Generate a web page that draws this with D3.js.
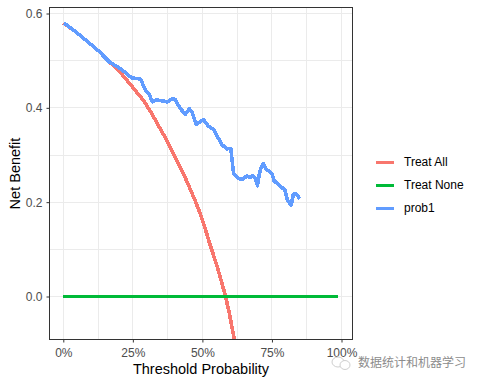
<!DOCTYPE html>
<html>
<head>
<meta charset="utf-8">
<script src="https://cdn.jsdelivr.net/npm/d3@7"></script>
<style>
html, body { margin: 0; padding: 0; background: #fff; }
svg { display: block; }
text { font-family: "Liberation Sans", Arial, sans-serif; }
</style>
</head>
<body>
<svg id="chart" width="480" height="384"></svg>
<script>
// threshold / net benefit
var treatAllX = [0, 0.042, 0.078, 0.126, 0.168, 0.204, 0.246, 0.288, 0.318, 0.348, 0.372, 0.39, 0.408, 0.43, 0.45, 0.472, 0.492, 0.51, 0.528, 0.552, 0.582, 0.597, 0.614, 0.63];
var treatAllY = [0.58, 0.5625, 0.545, 0.521, 0.496, 0.476, 0.446, 0.416, 0.388, 0.356, 0.331, 0.31, 0.289, 0.263, 0.236, 0.206, 0.176, 0.144, 0.109, 0.066, 0.003, -0.036, -0.089, -0.13];

var treatNoneX = [0, 0.988];
var treatNoneY = [0, 0];

var prob1X = [0.0025, 0.042, 0.078, 0.126, 0.168, 0.206, 0.246, 0.278, 0.296, 0.309, 0.32, 0.336, 0.375, 0.392, 0.402, 0.42, 0.439, 0.453, 0.463, 0.477, 0.504, 0.522, 0.54, 0.57, 0.588, 0.602, 0.612, 0.63, 0.645, 0.66, 0.671, 0.681, 0.691, 0.698, 0.705, 0.711, 0.719, 0.729, 0.75, 0.758, 0.777, 0.797, 0.806, 0.819, 0.827, 0.837, 0.851];
var prob1Y = [0.58, 0.5625, 0.545, 0.521, 0.496, 0.483, 0.4635, 0.461, 0.436, 0.428, 0.413, 0.417, 0.4125, 0.42, 0.418, 0.3985, 0.3865, 0.398, 0.391, 0.365, 0.375, 0.361, 0.354, 0.322, 0.313, 0.314, 0.261, 0.25, 0.248, 0.256, 0.252, 0.2565, 0.25, 0.2345, 0.261, 0.2735, 0.282, 0.27, 0.261, 0.245, 0.236, 0.225, 0.204, 0.1935, 0.217, 0.217, 0.207];

var xMajor = [0, 0.25, 0.5, 0.75, 1];
var xMinor = [0.125, 0.375, 0.625, 0.875];
var yMajor = [0, 0.2, 0.4, 0.6];
var yMinor = [0.1, 0.3, 0.5];

var legendLabels = ["Treat All", "Treat None", "prob1"];
var legendColors = ["#F8766D", "#00BA38", "#619CFF"];

var panel = { left: 49.5, right: 352.5, top: 7.5, bottom: 339.5 };

var svg = d3.select("#chart");

var x = d3.scaleLinear().domain([0, 1]).range([63.3, 341.5]);
var y = d3.scaleLinear().domain([0, 0.6]).range([296.5, 13.5]);

// grid
var grid = svg.append("g");
function vGrid(values, w) {
    grid.selectAll(null).data(values).enter().append("line")
        .attr("x1", function(d){ return x(d); })
        .attr("x2", function(d){ return x(d); })
        .attr("y1", panel.top).attr("y2", panel.bottom)
        .attr("stroke", "#ebebeb").attr("stroke-width", w)
        .attr("shape-rendering", "crispEdges");
}
function hGrid(values, w) {
    grid.selectAll(null).data(values).enter().append("line")
        .attr("y1", function(d){ return y(d); })
        .attr("y2", function(d){ return y(d); })
        .attr("x1", panel.left).attr("x2", panel.right)
        .attr("stroke", "#ebebeb").attr("stroke-width", w)
        .attr("shape-rendering", "crispEdges");
}
vGrid(xMinor, 1);
hGrid(yMinor, 1);
vGrid(xMajor, 1);
hGrid(yMajor, 1);

// lines, clipped to the panel
svg.append("clipPath").attr("id", "panelClip").append("rect")
    .attr("x", panel.left).attr("y", panel.top)
    .attr("width", panel.right - panel.left)
    .attr("height", panel.bottom - panel.top);

var line = d3.line()
    .x(function(d){ return x(d[0]); })
    .y(function(d){ return y(d[1]); });

var series = [d3.zip(treatAllX, treatAllY), d3.zip(treatNoneX, treatNoneY), d3.zip(prob1X, prob1Y)];

svg.append("g").attr("clip-path", "url(#panelClip)")
    .selectAll("path").data(series).enter().append("path")
    .attr("d", line)
    .attr("fill", "none")
    .attr("stroke", function(d, i){ return legendColors[i]; })
    .attr("stroke-width", 3.6)
    .attr("stroke-linejoin", "round")
    .attr("shape-rendering", "crispEdges");

// panel border
svg.append("rect")
    .attr("x", panel.left).attr("y", panel.top)
    .attr("width", panel.right - panel.left)
    .attr("height", panel.bottom - panel.top)
    .attr("fill", "none")
    .attr("stroke", "#333333")
    .attr("stroke-width", 1);

// axes
var xAxis = d3.axisBottom(x).tickValues(xMajor).tickSize(3).tickPadding(6).tickFormat(d3.format(".0%"));
var yAxis = d3.axisLeft(y).tickValues(yMajor).tickSize(3).tickPadding(4).tickFormat(d3.format(".1f"));

var gx = svg.append("g").attr("transform", "translate(0," + panel.bottom + ")").call(xAxis);
var gy = svg.append("g").attr("transform", "translate(" + panel.left + ",0)").call(yAxis);

[gx, gy].forEach(function(g){
    g.select(".domain").remove();
    g.selectAll(".tick line").attr("stroke", "#333333");
    g.selectAll(".tick text").attr("fill", "#4d4d4d").style("font-size", "12px");
});

svg.append("text")
    .attr("x", 201).attr("y", 374)
    .attr("text-anchor", "middle")
    .style("font-size", "14.5px")
    .text("Threshold Probability");

svg.append("text")
    .attr("transform", "translate(20,173.5) rotate(-90)")
    .attr("text-anchor", "middle")
    .style("font-size", "14.5px")
    .text("Net Benefit");

// legend
var legendY = d3.scalePoint().domain(legendLabels).range([162, 208]);
var legend = svg.append("g").selectAll("g").data(legendLabels).enter().append("g")
    .attr("transform", function(d){ return "translate(0," + legendY(d) + ")"; });

legend.append("line")
    .attr("x1", 376).attr("x2", 394)
    .attr("stroke", function(d, i){ return legendColors[i]; })
    .attr("stroke-width", 3)
    .attr("shape-rendering", "crispEdges");

legend.append("text")
    .attr("x", 404).attr("y", 4)
    .style("font-size", "12px")
    .text(function(d){ return d; });

// watermark
var mark = svg.append("g").attr("fill", "#fff").attr("stroke", "#cfcfcf").attr("stroke-width", 1);
mark.append("ellipse").attr("cx", 338).attr("cy", 362).attr("rx", 6).attr("ry", 5);
mark.append("ellipse").attr("cx", 345).attr("cy", 365).attr("rx", 5).attr("ry", 4.5);

svg.append("text")
    .attr("x", 358).attr("y", 367)
    .attr("fill", "#8c8c8c")
    .attr("stroke", "#fff")
    .attr("stroke-width", 2)
    .attr("paint-order", "stroke")
    .style("font-family", '"Noto Sans CJK SC", sans-serif')
    .style("font-size", "12px")
    .text("数据统计和机器学习");
</script>
</body>
</html>
